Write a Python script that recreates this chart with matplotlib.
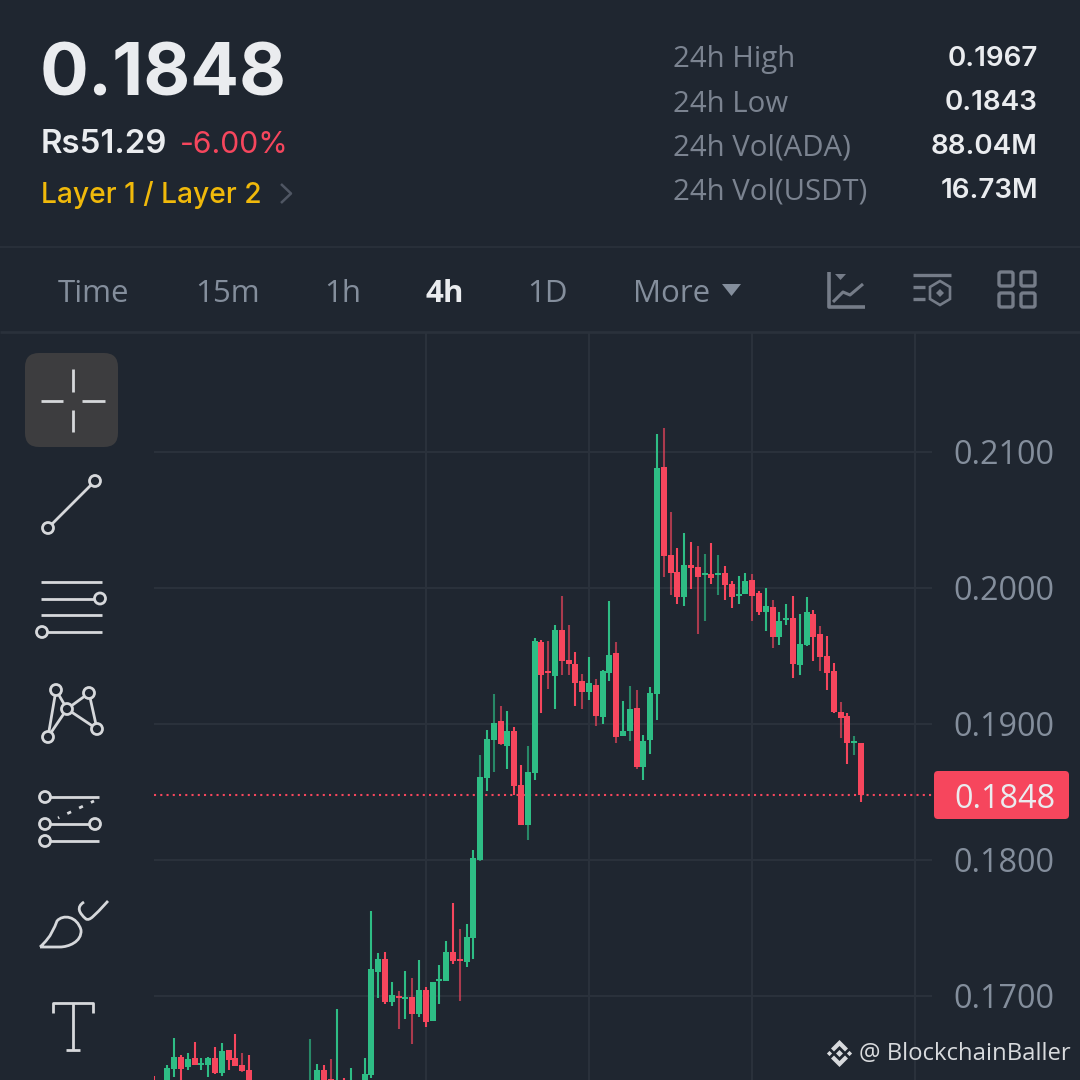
import matplotlib
matplotlib.use('Agg')
import matplotlib.pyplot as plt
from matplotlib.patches import Circle, FancyBboxPatch, PathPatch, Polygon
from matplotlib.path import Path

plt.rcParams['font.family'] = ['Open Sans', 'Noto Sans', 'DejaVu Sans']

BG = '#1f2630'
GRID = '#2a313b'
GREEN = '#2ebd85'
RED = '#f6465d'
WHITE = '#eaecef'
GRAY = '#848e9c'
ICON = '#d6d8db'
TOOL = '#757c88'

# candle slots, the ones not listed are below the visible price range
slots = [0, 2, 3, 4, 5, 6, 7, 8, 9, 10, 11, 12, 13, 14,
         23, 24, 25, 26, 27, 28, 29, 31, 32, 33, 34, 35, 36, 37, 38, 39,
         40, 41, 42, 43, 44, 45, 46, 47, 48, 49, 50, 51, 52, 53, 54, 55,
         56, 57, 58, 59, 60, 61, 62, 63, 64, 65, 66, 67, 68, 69, 70, 71,
         72, 73, 74, 75, 76, 77, 78, 79, 80, 81, 82, 83, 84, 85, 86, 87,
         88, 89, 90, 91, 92, 93, 94, 95, 96, 97, 98, 99, 100, 101, 102, 103, 104]
opens = [.1638, .1625, .16463, .16551, .16478, .16544, .16493, .16493, .16544, .16434, .16603, .16544, .16493, .16456,
         .1625, .1625, .16456, .1639, .1625, .1638, .1625, .1630, .16419, .17176, .17272, .16956, .17, .16978, .16993, .16868,
         .17044, .16816, .1711, .1711, .17324, .17272, .1725, .17426, .18, .18603, .18882, .19022, .18838, .18949, .18551, .18257,
         .1864, .19603, .1939, .19353, .19691, .19471, .19441, .19316, .19235, .19287, .19051, .19375, .19522, .18912, .18949, .19118,
         .18684, .18882, .19221, .2089, .20243, .20118, .19934, .20169, .20154, .20098, .20103, .20096, .2011, .20029, .19941, .19956,
         .20059, .19963, .19824, .1986, .1964, .19765, .19779, .19434, .19581, .19809, .19662, .195, .1939, .19088, .19059, .1886, .1886]
highs = [.16412, .16493, .16691, .16566, .16581, .16662, .16544, .16551, .16625, .16654, .16603, .16721, .16581, .16566,
         .16684, .165, .16493, .16537, .16904, .164, .16471, .16544, .17625, .17316, .17324, .17103, .17037, .17184, .17132, .17265,
         .17066, .17103, .17228, .17404, .17684, .17493, .17529, .18074, .18772, .18956, .19221, .19132, .19096, .18978, .18699, .18838,
         .19632, .19618, .1961, .19728, .19941, .19728, .19529, .19368, .19493, .19331, .19397, .19904, .19603, .19169, .19279, .1925,
         .18919, .19272, .21132, .21176, .20559, .20294, .20404, .20338, .20309, .2025, .20331, .20243, .20162, .20051, .20088, .2011,
         .20103, .19978, .2, .19912, .19824, .19882, .19941, .19809, .19934, .19838, .19721, .19647, .19449, .19162, .19081, .18912, .1886]
lows = [.162, .162, .16404, .1625, .16456, .16493, .16456, .16404, .16426, .16412, .16456, .16485, .16442, .162,
        .162, .162, .162, .1615, .162, .162, .162, .1625, .164, .16985, .16941, .16926, .16757, .16831, .16647, .16846,
        .16772, .16816, .16941, .1711, .17235, .16963, .17213, .17272, .1799, .18507, .18647, .18846, .18669, .18478, .18257, .18147,
        .18588, .19081, .19257, .1911, .1936, .1936, .19132, .1911, .19176, .18985, .19, .19316, .1886, .18912, .18875, .18669,
        .18588, .18779, .19029, .20081, .19949, .19882, .19868, .19993, .19662, .19757, .20029, .19949, .19912, .19853, .19882, .19956,
        .19757, .19801, .19684, .19559, .19581, .19728, .19338, .1936, .19574, .19463, .1939, .1925, .19081, .18897, .18706, .18772, .18426]
closes = [.1625, .16471, .16551, .16463, .16537, .16493, .16507, .16544, .16434, .16596, .16529, .16485, .16449, .1625,
          .163, .16456, .1625, .162, .163, .1625, .163, .16426, .17199, .17272, .16956, .17007, .16985, .16993, .16868, .17044,
          .16809, .17103, .17125, .17324, .17257, .17257, .17434, .18015, .1861, .1889, .19007, .18853, .18949, .18544, .18257, .18647,
          .1961, .1936, .19375, .19691, .19463, .19441, .19301, .19235, .19301, .19059, .1939, .19507, .18904, .18949, .1911, .18684,
          .18875, .19228, .20882, .20235, .2011, .19934, .20169, .20147, .20081, .20108, .20074, .20108, .20022, .19934, .19956, .20051,
          .19941, .19824, .19868, .1964, .19757, .19779, .19441, .19588, .19824, .1964, .19493, .19375, .19088, .19044, .1886, .18875, .18478]
faded_wicks = [13, 23, 26, 36, 38, 45, 48, 50, 51, 55, 58, 60, 61, 63, 65, 68, 70, 71,
               75, 76, 80, 81, 83, 88, 91, 98, 101, 103]

y_ticks = [0.17, 0.18, 0.19, 0.20, 0.21]
x_grid = [40, 64, 88, 112]
last_price = 0.1848

stat_names = ['24h High', '24h Low', '24h Vol(ADA)', '24h Vol(USDT)']
stat_values = ['0.1967', '0.1843', '88.04M', '16.73M']
tabs = ['Time', '15m', '1h', '4h', '1D', 'More']
tab_x = [58, 195, 324, 425, 527, 633]

fig = plt.figure(figsize=(10.8, 10.8), dpi=100, facecolor=BG)

# price chart
ax = fig.add_axes([154 / 1080, 0, 778 / 1080, 747 / 1080], facecolor=BG)
ax.set_xlim(0.03, 114.44)
ax.set_ylim(0.16382, 0.21875)
ax.set_yticks(y_ticks)
ax.set_yticklabels(['%.4f' % t for t in y_ticks])
ax.set_xticks(x_grid)
ax.set_xticklabels([])
ax.yaxis.tick_right()
ax.tick_params(axis='both', length=0)
ax.tick_params(axis='y', pad=15.5, labelsize=23.3, labelcolor=GRAY)
ax.grid(True, color=GRID, lw=1.5)
ax.set_axisbelow(True)
for s in ax.spines.values():
    s.set_visible(False)

for i, o, h, l, c in zip(slots, opens, highs, lows, closes):
    col = GREEN if c >= o else RED
    ax.vlines(i, l, h, color=col, lw=1.5, alpha=0.65 if i in faded_wicks else 1, zorder=2)
    ax.bar(i, max(abs(c - o), 0.00014), width=0.88, bottom=min(o, c), color=col, zorder=3)

ax.axhline(last_price, color=RED, lw=1.5, ls=(0, (1, 2)), zorder=1)

# everything around the chart, in pixels
ui = fig.add_axes([0, 0, 1, 1], facecolor='none')
ui.set_xlim(0, 1080)
ui.set_ylim(1080, 0)
ui.axis('off')


def line(xs, ys, color=ICON, lw=2.0, **kw):
    ui.plot(xs, ys, color=color, lw=lw, solid_capstyle='butt', **kw)


def ring(x, y, r=5.5):
    ui.add_patch(Circle((x, y), r, fc=BG, ec=ICON, lw=2.0, zorder=5))


def box(x0, y0, w, h, r, **kw):
    ui.add_patch(FancyBboxPatch((x0 + r, y0 + r), w - 2 * r, h - 2 * r,
                                boxstyle='round,pad=%s,rounding_size=%s' % (r, r), **kw))


# header
ui.text(40, 95, '0.1848', color=WHITE, fontsize=52, fontweight='bold', family='Inter', va='baseline')
ui.text(41, 153, 'Rs51.29', color=WHITE, fontsize=23.8, fontweight='semibold', family='Inter', va='baseline')
ui.text(180, 153, '-6.00%', color=RED, fontsize=21.7, family='Inter', va='baseline')
ui.text(41, 203, 'Layer 1 / Layer 2', color='#f0b90b', fontsize=20.3, fontweight='medium', family='Inter', va='baseline')
line([281, 291, 281], [184, 193.5, 203], color='#4f5663', lw=1.8)
for n, (name, value) in enumerate(zip(stat_names, stat_values)):
    ui.text(673, 60 + 44 * n, name, color='#7b8390', fontsize=21.2, va='center')
    ui.text(1038, 66 + 44 * n, value, color=WHITE, fontsize=20, fontweight='semibold', family='Inter',
            va='baseline', ha='right')

# interval bar
line([0, 1080], [247, 247], color=GRID, lw=1.2)
line([0, 1080], [332, 332], color=GRID, lw=2)
for name, x in zip(tabs, tab_x):
    sel = name == '4h'
    ui.text(x, 294, name, color=WHITE if sel else GRAY, fontsize=22.5, va='center',
            fontweight='bold' if sel else 'normal')
ui.add_patch(Polygon([(722, 284), (741, 284), (731.5, 296)], fc=GRAY, ec='none'))

# toolbar icons top right
line([829, 829, 865], [272, 307, 307], color=TOOL, lw=2.6)
ui.add_patch(Polygon([(835, 274), (846, 274), (840.5, 280)], fc=TOOL, ec='none'))
line([833, 843, 850, 863], [302, 292, 295, 284], color=TOOL, lw=2.2)
line([913, 951], [275, 275], color=TOOL, lw=2.4)
line([913, 925], [287, 287], color=TOOL, lw=2.4)
line([913, 925], [299, 299], color=TOOL, lw=2.4)
ui.add_patch(Polygon([(940, 281), (950, 287), (950, 299), (940, 305), (930, 299), (930, 287)],
                     fc='none', ec=TOOL, lw=1.9))
ui.add_patch(Polygon([(940, 289), (944, 293), (940, 297), (936, 293)], fc=TOOL, ec='none'))
for x0 in (999, 1021):
    for y0 in (272, 293):
        box(x0, y0, 14, 14, 2, fc='none', ec=TOOL, lw=2.4)

# drawing tools on the left
box(25, 353, 93, 94, 14, fc='#3d3d3f', ec='none')
line([73, 73], [369, 392])
line([73, 73], [410, 432])
line([41, 63], [401, 401])
line([82, 105], [401, 401])

line([48, 95], [528, 481])
ring(48, 528)
ring(95, 481)

line([41, 102], [582, 582])
line([41, 100], [598.5, 598.5])
line([41, 102], [615, 615])
line([42, 102], [632, 632])
ring(100, 598.5)
ring(42, 632)

for a, b in [((56, 690), (48, 737)), ((56, 690), (67, 709)), ((67, 709), (48, 737)),
             ((67, 709), (89, 693)), ((89, 693), (97, 729)), ((67, 709), (97, 729))]:
    line([a[0], b[0]], [a[1], b[1]])
for p in [(56, 690), (89, 693), (67, 709), (97, 729), (48, 737)]:
    ring(p[0], p[1])

line([45, 99], [797, 797])
line([45, 95], [824, 824])
line([45, 99], [841, 841])
line([58, 94], [818, 801], ls=(1, (1.5, 3.2)))
for p in [(45, 797), (45, 824), (95, 824), (45, 841)]:
    ring(p[0], p[1])

brush = Path([(40, 947), (52, 936), (54, 928), (57, 921), (63, 914), (77, 916), (81, 930),
              (82, 942), (68, 947), (60, 947), (40, 947)],
             [Path.MOVETO, Path.CURVE4, Path.CURVE4, Path.CURVE4, Path.CURVE4, Path.CURVE4, Path.CURVE4,
              Path.CURVE4, Path.CURVE4, Path.CURVE4, Path.LINETO])
ui.add_patch(PathPatch(brush, fc='none', ec=ICON, lw=2.0))
handle = Path([(84, 902), (76, 907), (79, 913), (86, 919), (90, 921), (94, 916), (108, 901)],
              [Path.MOVETO, Path.CURVE4, Path.CURVE4, Path.CURVE4, Path.CURVE4, Path.CURVE4, Path.CURVE4])
ui.add_patch(PathPatch(handle, fc='none', ec=ICON, lw=2.0))

line([53, 53, 93, 93], [1013, 1003, 1003, 1013])
line([73, 73], [1003, 1050])
line([66, 80], [1050, 1050])

# last price tag
box(934, 771, 135, 48, 4, fc=RED, ec='none')
ui.text(1005, 799, '%.4f' % last_price, color=WHITE, fontsize=23.3, va='center', ha='center')

# watermark
MARK = '#d8dadd'
ui.text(859, 1054, '@ BlockchainBaller', color=MARK, fontsize=17.2, va='center')
for cx, cy, r in [(839.5, 1053.5, 3.5), (829.5, 1053.5, 2.6), (849.5, 1053.5, 2.6)]:
    ui.add_patch(Polygon([(cx, cy - r), (cx + r, cy), (cx, cy + r), (cx - r, cy)], fc=MARK, ec='none'))
for s in (1, -1):
    ui.add_patch(Polygon([(839.5, 1053.5 - 13.5 * s), (848, 1053.5 - 5 * s), (845, 1053.5 - 2 * s),
                          (839.5, 1053.5 - 7.5 * s), (834, 1053.5 - 2 * s), (831, 1053.5 - 5 * s)],
                         fc=MARK, ec='none'))

fig.savefig('out.png', dpi=100, facecolor=BG)
